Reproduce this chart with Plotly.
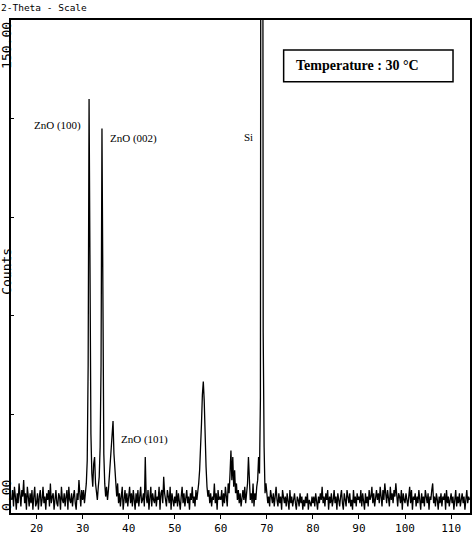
import numpy as np
import plotly.graph_objects as go

# 2-theta sampling of the scan (degrees)
two_theta_start = 14.6
two_theta_step = 0.2

# Counts, in 10-degree blocks
counts_14_20 = [4, 7, 2, 8, 5, 1, 6, 3, 9, 4,
                2, 7, 5, 10, 3, 6, 1, 8, 4, 2,
                6, 3, 7, 1, 5, 8, 2]
counts_20_30 = [3, 6, 1, 5, 7, 2, 4, 8, 3, 5,
                1, 6, 4, 7, 2, 9, 3, 5, 6, 1,
                4, 7, 3, 2, 6, 5, 1, 8, 4, 3,
                6, 2, 5, 7, 1, 8, 4, 3, 6, 2,
                5, 7, 3, 1, 6, 4, 10, 5, 2, 7]
counts_30_40 = [4, 7, 3, 6, 9, 16, 45, 126, 70, 24,
                12, 8, 15, 17, 9, 6, 4, 8, 11, 20,
                45, 117, 50, 18, 9, 5, 8, 4, 7, 11,
                17, 21, 26, 28, 18, 13, 8, 5, 9, 3,
                6, 2, 5, 8, 1, 4, 7, 3, 6, 2]
counts_40_50 = [5, 8, 3, 6, 2, 7, 4, 1, 6, 3,
                7, 2, 5, 8, 3, 4, 6, 2, 17, 5,
                3, 7, 1, 5, 8, 2, 6, 4, 3, 7,
                2, 5, 4, 8, 1, 6, 7, 3, 11, 6,
                4, 2, 7, 5, 3, 8, 1, 6, 4, 2]
counts_50_60 = [5, 3, 7, 2, 6, 4, 1, 5, 8, 3,
                6, 2, 4, 7, 3, 5, 1, 6, 4, 8,
                3, 5, 2, 7, 4, 6, 9, 13, 18, 27,
                36, 40, 34, 22, 14, 8, 5, 7, 3, 6,
                2, 5, 4, 9, 3, 6, 1, 7, 4, 5]
counts_60_70 = [4, 7, 2, 6, 3, 8, 5, 2, 9, 6,
                12, 19, 10, 17, 8, 13, 6, 9, 4, 7,
                3, 6, 2, 5, 7, 4, 8, 3, 6, 9,
                17, 7, 4, 6, 3, 9, 2, 6, 4, 8,
                10, 17, 12, 35, 400, 400, 55, 20, 6, 9]
counts_70_80 = [6, 3, 5, 2, 7, 4, 3, 6, 2, 5,
                8, 4, 2, 6, 3, 5, 1, 7, 4, 3,
                5, 2, 6, 4, 1, 7, 3, 5, 2, 4,
                6, 3, 1, 5, 4, 2, 6, 3, 5, 1,
                4, 2, 5, 3, 6, 1, 4, 3, 2, 5]
counts_80_90 = [3, 5, 2, 6, 4, 1, 5, 3, 6, 4,
                8, 3, 5, 2, 6, 4, 7, 1, 5, 3,
                6, 2, 4, 7, 3, 5, 1, 6, 4, 2,
                5, 7, 3, 1, 6, 4, 2, 7, 5, 3,
                6, 2, 4, 1, 7, 3, 5, 2, 6, 4]
counts_90_100 = [5, 3, 7, 2, 6, 4, 1, 6, 3, 5,
                 2, 7, 4, 5, 8, 3, 6, 2, 5, 7,
                 4, 6, 3, 8, 5, 2, 7, 4, 9, 6,
                 3, 7, 5, 2, 8, 4, 6, 3, 7, 5,
                 9, 4, 2, 6, 5, 3, 7, 1, 6, 4]
counts_100_110 = [3, 6, 4, 2, 5, 8, 3, 7, 1, 5,
                  4, 6, 2, 5, 3, 7, 4, 1, 6, 3,
                  5, 2, 7, 4, 3, 6, 1, 5, 4, 7,
                  9, 3, 5, 2, 6, 4, 1, 5, 3, 6,
                  2, 5, 4, 6, 1, 7, 3, 5, 2, 4]
counts_110_114 = [6, 3, 5, 1, 4, 7, 2, 5, 3, 6,
                  2, 4, 6, 3, 5, 1, 4, 7, 3, 5,
                  4]

x_tick_values = [20, 30, 40, 50, 60, 70, 80, 90, 100, 110]
y_tick_values = [0, 30, 60, 90, 120, 150]
y_labels = ["0.00", "150.00"]

peak_labels = ["ZnO (100)", "ZnO (002)", "Si", "ZnO (101)"]
peak_label_x = [30.1, 35.6, 64.6, 37.8]
peak_label_y = [118, 114, 114.5, 22.3]
peak_label_anchor = ["right", "left", "left", "left"]

counts = (counts_14_20 + counts_20_30 + counts_30_40 + counts_40_50 + counts_50_60
          + counts_60_70 + counts_70_80 + counts_80_90 + counts_90_100
          + counts_100_110 + counts_110_114)
two_theta = two_theta_start + two_theta_step * np.arange(len(counts))

mono = "DejaVu Sans Mono"
serif = "Liberation Serif"

fig = go.Figure()
fig.add_trace(go.Scatter(x=two_theta, y=counts, mode="lines",
                         line=dict(color="black", width=1.3), showlegend=False,
                         hoverinfo="skip"))

fig.update_layout(
    width=474, height=537, autosize=False,
    margin=dict(l=11, r=2, t=20, b=22),
    paper_bgcolor="white", plot_bgcolor="white",
    xaxis=dict(range=[14.45, 114.1], tickvals=x_tick_values, ticks="outside",
               ticklen=4, tickcolor="black", showline=True, linecolor="black",
               linewidth=1.5, mirror=True, showgrid=False, zeroline=False,
               tickfont=dict(family=mono, size=11, color="black")),
    xaxis2=dict(range=[14.45, 114.1], overlaying="x", side="top",
                tickvals=x_tick_values, ticks="inside", ticklen=5,
                tickcolor="black", showticklabels=False, showgrid=False,
                zeroline=False, showline=False),
    yaxis=dict(range=[0, 150], tickvals=y_tick_values, ticks="inside",
               ticklen=3, tickcolor="black", showticklabels=False,
               showline=True, linecolor="black", linewidth=1.5, mirror=True,
               showgrid=False, zeroline=False),
)

# Title and axis texts
fig.add_annotation(text="2-Theta - Scale", xref="paper", yref="paper",
                   x=-0.026, y=1.026, xanchor="left", yanchor="middle",
                   showarrow=False, font=dict(family=mono, size=9.5, color="black"))
fig.add_annotation(text="Counts", xref="paper", yref="paper",
                   x=-0.01, y=0.49, xanchor="center", yanchor="middle",
                   textangle=-90, showarrow=False,
                   font=dict(family=mono, size=13, color="black"))
fig.add_annotation(text=y_labels[1], xref="paper", y=y_tick_values[-1], yref="y",
                   x=-0.01, xanchor="center", yanchor="top", textangle=-90,
                   showarrow=False, font=dict(family=mono, size=13, color="black"))
fig.add_annotation(text=y_labels[0], xref="paper", y=y_tick_values[0], yref="y",
                   x=-0.01, xanchor="center", yanchor="bottom", textangle=-90,
                   showarrow=False, font=dict(family=mono, size=13, color="black"))

for txt, px, py, anc in zip(peak_labels, peak_label_x, peak_label_y, peak_label_anchor):
    fig.add_annotation(text=txt, x=px, y=py, xref="x", yref="y", xanchor=anc,
                       yanchor="middle", showarrow=False,
                       font=dict(family=serif, size=11, color="black"))

# Temperature box
fig.add_shape(type="rect", xref="paper", yref="paper", x0=0.594, x1=0.963,
              y0=0.875, y1=0.939, line=dict(color="black", width=1.5),
              fillcolor="white")
fig.add_annotation(text="<b>Temperature : 30 °C</b>", xref="paper", yref="paper",
                   x=0.616, y=0.907, xanchor="left", yanchor="middle",
                   showarrow=False, font=dict(family=serif, size=14, color="black"))

fig.write_html("out.html", config={"displayModeBar": False},
               post_script="document.body.style.margin='0';")
